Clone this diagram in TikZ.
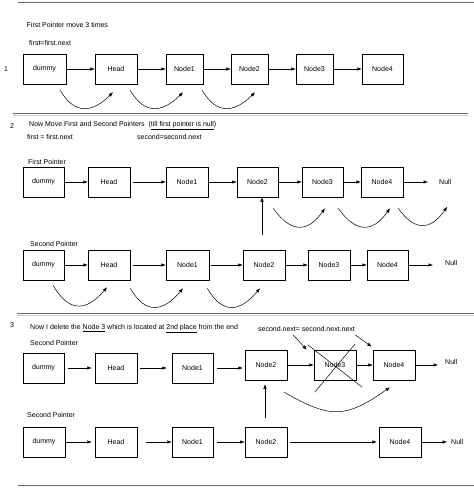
\documentclass[tikz,border=0pt]{standalone}
\usepackage{fontspec}
\setmainfont{Liberation Sans}
\usepackage{tikz}
\usetikzlibrary{arrows.meta, positioning, calc}
\tikzset{
    box/.style={draw, rectangle, minimum width=42pt, minimum height=30pt, inner sep=0pt, line width=0.5pt},
    link/.style={-{Latex[length=4.5pt, width=3.5pt]}, line width=0.5pt},
    note/.style={anchor=west, inner sep=0pt},
    sepdark/.style={draw=black!60, line width=1pt},
    seplight/.style={draw=black!22, line width=1.2pt},
    every node/.append style={font=\fontsize{7}{8}\selectfont},
}

\begin{document}
\begin{tikzpicture}[x=1pt, y=1pt]
    \useasboundingbox (0,0) rectangle (474,-488);

    \draw[sepdark] (18,-2.5) -- (474,-2.5);
    \draw[sepdark] (13,-113) -- (468,-113);
    \draw[seplight] (13,-115.5) -- (468,-115.5);
    \draw[sepdark] (17,-313) -- (474,-313);
    \draw[seplight] (17,-315.8) -- (474,-315.8);
    \draw[sepdark] (18,-485) -- (474,-485);

    \node[note] (t1) at (26.5,-25) {First Pointer move 3 times};
    \node[note] (f1) at (29,-43) {first=first.next};
    \node (n1) at (6,-69) {1};

    \node[box, minimum width=43pt] (a0) at (44.5,-69) {dummy};
    \node[box] (a1) at (116,-69) {Head};
    \node[box, minimum width=37pt] (a2) at (184.5,-69) {Node1};
    \node[box, minimum width=37pt] (a3) at (249.5,-69) {Node2};
    \node[box, minimum width=37pt] (a4) at (314.5,-69) {Node3};
    \node[box, minimum width=41pt] (a5) at (382.5,-69) {Node4};

    \foreach \i/\j in {a0/a1, a1/a2, a2/a3, a3/a4, a4/a5}
        \draw[link] (\i) -- (\j);

    \draw[link] ([shift={(-6,-6)}]a0.south east) to[out=-60, in=-135, looseness=1.4] ([shift={(-3,-8)}]a1.south);
    \draw[link] ([shift={(-7,-6)}]a1.south east) to[out=-60, in=-135, looseness=1.4] ([shift={(-1.5,-8)}]a2.south);
    \draw[link] ([shift={(-1,-6)}]a2.south east) to[out=-60, in=-135, looseness=1.4] ([shift={(5.5,-8)}]a3.south);

    \node (n2) at (12,-126) {2};
    \node[note] (t2) at (29,-126) {Now Move First and Second Pointers\ \ (\underline{till first pointer is null})};
    \node[note] (f2) at (27,-137) {first = first.next};
    \node[note] (s2) at (137,-137) {second=second.next};
    \node[note] (l2) at (28,-162) {First Pointer};

    \node[box, minimum width=41pt] (b0) at (43.5,-182) {dummy};
    \node[box] (b1) at (109,-182) {Head};
    \node[box] (b2) at (187,-182) {Node1};
    \node[box, minimum width=41pt] (b3) at (257.5,-182) {Node2};
    \node[box, minimum width=41pt] (b4) at (322.5,-182) {Node3};
    \node[box] (b5) at (382,-182) {Node4};
    \node[note] (null2) at (439,-182) {Null};

    \draw[link] (b0) -- (b1);
    \draw[link, shorten <=3pt] (b1) -- (b2);
    \foreach \i/\j in {b2/b3, b3/b4, b4/b5}
        \draw[link] (\i) -- (\j);
    \draw[link, shorten >=11pt] (b5) -- (null2.west);

    \draw[link] ([shift={(-5,-11)}]b3.south east) to[out=-55, in=-125, looseness=1.5] ([shift={(2.5,-11)}]b4.south);
    \draw[link] ([shift={(-5,-11)}]b4.south east) to[out=-55, in=-125, looseness=1.5] ([shift={(8,-11)}]b5.south);
    \draw[link] ([shift={(-5,-11)}]b5.south east) to[out=-55, in=-125, looseness=1.5] ([shift={(2,-22)}]null2.south);

    \coordinate (u2) at (262,-235);
    \draw[link] (u2) -- (u2 |- b3.south);

    \node[note] (l3) at (30,-244) {Second Pointer};

    \node[box, minimum width=41pt] (c0) at (43.5,-265) {dummy};
    \node[box] (c1) at (109,-265) {Head};
    \node[box, minimum width=43pt] (c2) at (187.5,-265) {Node1};
    \node[box] (c3) at (264,-265) {Node2};
    \node[box] (c4) at (329,-265) {Node3};
    \node[box, minimum width=41pt] (c5) at (387.5,-265) {Node4};
    \node[note] (null3) at (445,-263) {Null};

    \draw[link] (c0) -- (c1);
    \draw[link, shorten <=3pt] (c1) -- (c2);
    \draw[link, shorten <=2pt] (c2) -- (c3);
    \draw[link] (c3) -- (c4);
    \draw[link] (c4) -- (c5);
    \draw[link, shorten >=12pt] (c5.east) -- (c5.east -| null3.west);

    \draw[link] ([shift={(9.5,-5)}]c0.south) to[out=-60, in=-130, looseness=1.5] ([shift={(-2,-7)}]c1.south);
    \draw[link] ([shift={(0,-8)}]c1.south east) to[out=-60, in=-130, looseness=1.5] ([shift={(-4.5,-8)}]c2.south);
    \draw[link] ([shift={(-2,-8)}]c2.south east) to[out=-60, in=-130, looseness=1.5] ([shift={(-4,-8)}]c3.south);

    \node (n3) at (12,-325) {3};
    \node[note] (t3) at (30,-329) {Now I delete the \underline{Node 3} which is located at \underline{2nd place} from the end};
    \node[note] (nx) at (258,-329) {second.next= second.next.next};
    \node[note] (l4) at (30,-343) {Second Pointer};

    \node[box, minimum width=41pt] (d0) at (43.5,-368) {dummy};
    \node[box] (d1) at (116,-368) {Head};
    \node[box, minimum width=41pt] (d2) at (192.5,-368) {Node1};
    \node[box] (d3) at (266,-365) {Node2};
    \node[box] (d4) at (335,-365) {Node3};
    \node[box] (d5) at (394,-365) {Node4};
    \node[note] (null4) at (445,-362) {Null};

    \draw[link, shorten <=4pt, shorten >=3pt] (d0) -- (d1);
    \draw[link, shorten <=3pt, shorten >=5pt] (d1) -- (d2);
    \draw[link, shorten <=4pt, shorten >=2pt] (d2.east) -- (d2.east -| d3.west);
    \draw[link] (d3) -- (d4);
    \draw[link] (d4) -- (d5);
    \draw[link, shorten >=7pt] (d5.east) -- (d5.east -| null4.west);

    \draw[line width=0.5pt] ([shift={(-6,5)}]d4.north west) -- ([shift={(6,-7)}]d4.south east);
    \draw[line width=0.5pt] ([shift={(1,-12)}]d4.south west) -- ([shift={(-1,6)}]d4.north east);

    \draw[link] ([shift={(35,-3)}]nx.south west) -- ([shift={(-7,0)}]d4.north west);
    \draw[link] ([shift={(0,-3)}]nx.south east) -- ([shift={(-1,3)}]d5.north west);

    \draw[link] ([shift={(-3,-12)}]d3.south east) to[out=-30, in=-145, looseness=1.3] ([shift={(-4,-7)}]d5.south);

    \coordinate (u3) at (265,-418);
    \draw[link, shorten >=4pt] (u3) -- (u3 |- d3.south);

    \node[note] (l5) at (27,-415) {Second Pointer};

    \node[box] (e0) at (44,-442) {dummy};
    \node[box] (e1) at (116,-442) {Head};
    \node[box, minimum width=41pt] (e2) at (192.5,-442) {Node1};
    \node[box] (e3) at (266,-442) {Node2};
    \node[box] (e5) at (400,-442) {Node4};
    \node[note] (null5) at (451,-442) {Null};

    \draw[link, shorten >=3pt] (e0) -- (e1);
    \draw[link, shorten <=9pt] (e1) -- (e2);
    \draw[link, shorten <=4pt] (e2) -- (e3);
    \draw[link, shorten <=3pt, shorten >=2pt] (e3) -- (e5);
    \draw[link, shorten >=4pt] (e5) -- (null5.west);
\end{tikzpicture}
\end{document}
